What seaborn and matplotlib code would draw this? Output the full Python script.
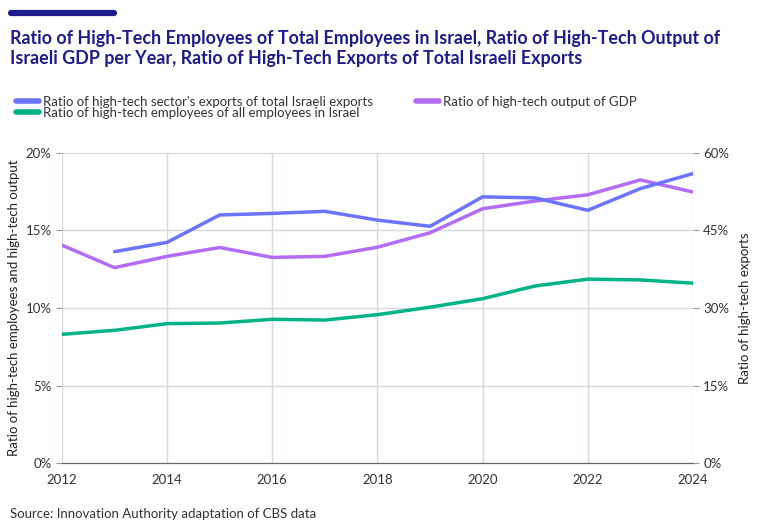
import pandas as pd
import seaborn as sns
import matplotlib.pyplot as plt
from matplotlib.ticker import PercentFormatter

years = list(range(2012, 2025))
exports = [None, 40.9, 42.7, 48.0, 48.3, 48.7, 47.0, 45.8, 51.5, 51.3, 48.9, 53.1, 56.0]
gdp = [14.05, 12.6, 13.33, 13.9, 13.26, 13.33, 13.92, 14.85, 16.4, 16.9, 17.3, 18.26, 17.48]
employees = [8.3, 8.56, 8.99, 9.03, 9.27, 9.22, 9.57, 10.05, 10.6, 11.42, 11.86, 11.81, 11.6]

lbl_exp = "Ratio of high-tech sector's exports of total Israeli exports"
lbl_gdp = "Ratio of high-tech output of GDP"
lbl_emp = "Ratio of high-tech employees of all employees in Israel"

c_exp = "#6b73ff"
c_gdp = "#b46cf7"
c_emp = "#00b386"
navy = "#1c1c8a"

df = pd.DataFrame({"year": years, "exports": exports, "gdp": gdp, "employees": employees})

sns.set_style("white")
plt.rcParams["font.family"] = ["Lato", "DejaVu Sans"]

fig = plt.figure(figsize=(7.68, 5.31), dpi=100)
ax = fig.add_axes([0.0807, 0.128, 0.8215, 0.584])
ax2 = ax.twinx()

sns.lineplot(data=df, x="year", y="gdp", ax=ax, color=c_gdp, linewidth=2.5, label=lbl_gdp, legend=False)
sns.lineplot(data=df, x="year", y="employees", ax=ax, color=c_emp, linewidth=2.5, label=lbl_emp, legend=False)
sns.lineplot(data=df.dropna(), x="year", y="exports", ax=ax2, color=c_exp, linewidth=2.5, label=lbl_exp, legend=False)

ax.set_xlim(2012, 2024)
ax.set_ylim(0, 20)
ax2.set_ylim(0, 60)
ax.set_xticks(range(2012, 2025, 2))
ax.set_yticks([0, 5, 10, 15, 20])
ax2.set_yticks([0, 15, 30, 45, 60])
ax.yaxis.set_major_formatter(PercentFormatter(decimals=0))
ax2.yaxis.set_major_formatter(PercentFormatter(decimals=0))

ax.grid(True, color="#d5dadd", linewidth=1)
ax.set_axisbelow(True)
for a in (ax, ax2):
    for s in ("top", "left", "right"):
        a.spines[s].set_visible(False)
    a.spines["bottom"].set_color("#666666")
    a.tick_params(axis="both", labelsize=9.5, colors="#333333", length=4, color="#999999", width=0.8)
ax.tick_params(axis="x", length=0, pad=8)

ax.set_xlabel("")
ax.set_ylabel("Ratio of high-tech employees and high-tech output", fontsize=9.5, color="#222222", labelpad=4)
ax2.set_ylabel("Ratio of high-tech exports", fontsize=9.5, color="#222222", labelpad=7)

handles = [plt.Line2D([], [], color=c_exp, linewidth=4),
           plt.Line2D([], [], color=c_emp, linewidth=4),
           plt.Line2D([], [], color=c_gdp, linewidth=4)]
fig.legend(handles, [lbl_exp, lbl_emp, lbl_gdp], ncol=2, loc="upper left",
           bbox_to_anchor=(0.005, 0.842), frameon=False, fontsize=9.5,
           handlelength=1.8, handletextpad=0.3, columnspacing=3.2,
           labelspacing=-0.05, labelcolor="#333333")

fig.text(0.013, 0.943, "Ratio of High-Tech Employees of Total Employees in Israel, Ratio of High-Tech Output of\n"
         "Israeli GDP per Year, Ratio of High-Tech Exports of Total Israeli Exports",
         fontsize=12.9, fontweight="bold", color=navy, va="top", linespacing=1.2)
fig.add_artist(plt.Line2D([0.014, 0.148], [0.975, 0.975], color=navy, linewidth=4.5,
                          solid_capstyle="round", transform=fig.transFigure))
fig.text(0.013, 0.025, "Source: Innovation Authority adaptation of CBS data", fontsize=9.5, color="#333333")

fig.savefig("out.png", dpi=100)
